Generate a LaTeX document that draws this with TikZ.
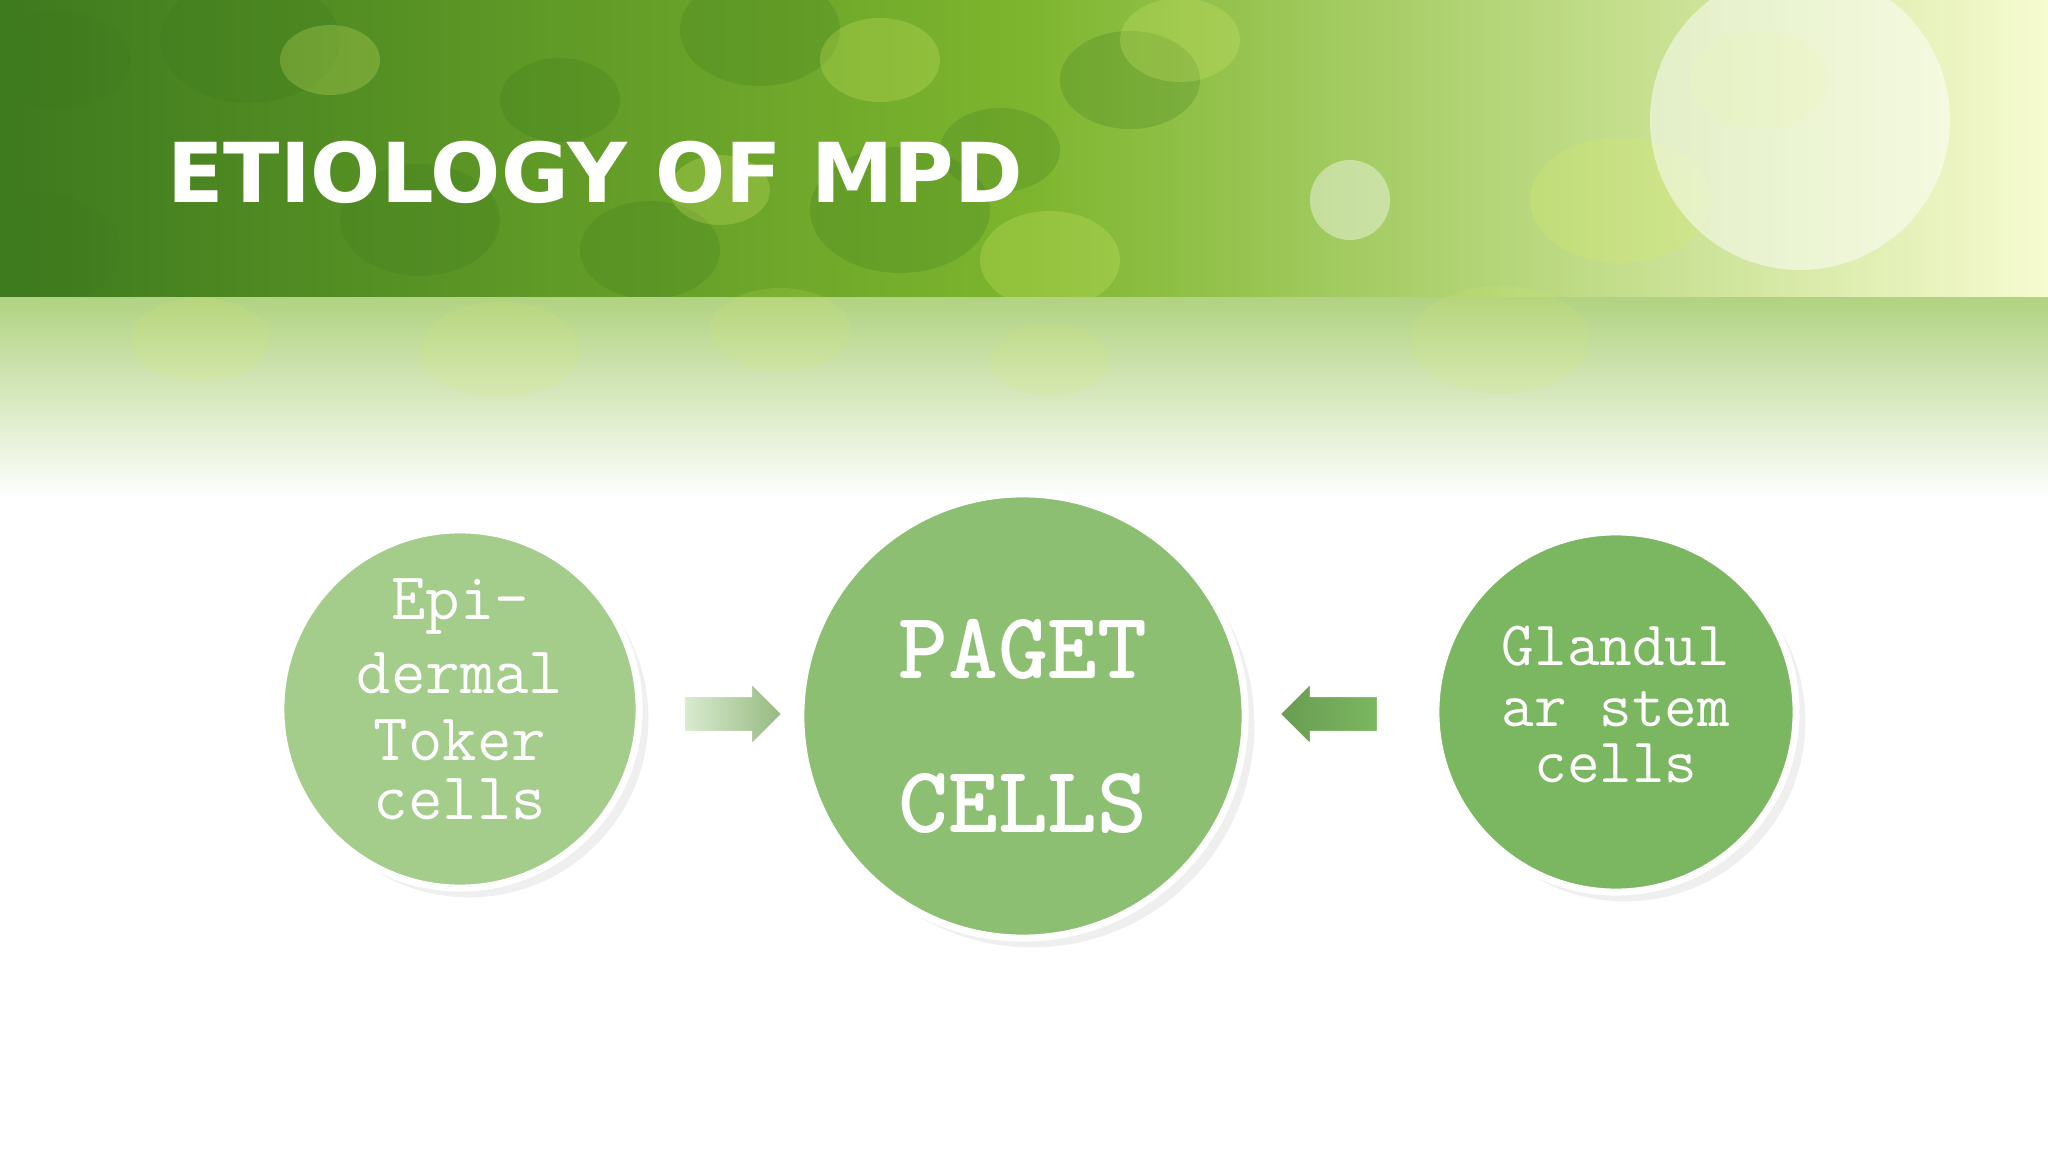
\documentclass[tikz,border=0pt]{standalone}
\usepackage{fontspec}
\setmainfont{Liberation Mono}
\newfontfamily\titlefont{DejaVu Sans}
\usetikzlibrary{shapes.arrows,shadows}
\definecolor{leafdark}{HTML}{3E7A1E}
\definecolor{leafmid}{HTML}{7DB52E}
\definecolor{leaflight}{HTML}{D8EC6A}
\definecolor{sunny}{HTML}{F6FBD0}
\definecolor{cA}{HTML}{A4CD8C}
\definecolor{cB}{HTML}{8CBF72}
\definecolor{cC}{HTML}{7BB760}
\tikzset{
 cell/.style={circle,draw=white,line width=2pt,text=white,align=center,inner sep=0pt},
 ctext/.style={text=white,font=\ttfamily},
 leaf/.style={fill=leaflight,opacity=0.25},
 leafd/.style={fill=leafdark,opacity=0.25},
 arr/.style={single arrow,draw=white,line width=1pt,minimum height=1cm,minimum width=0.66cm,single arrow head extend=0.12cm,inner sep=0.14cm}
}
\begin{document}
\begin{tikzpicture}[x=0.01cm,y=-0.01cm]
\useasboundingbox (0,0) rectangle (2048,1152);
\fill[white] (0,0) rectangle (2048,1152);
% leafy band
\shade[left color=leafdark,right color=sunny,middle color=leafmid] (0,0) rectangle (2048,300);
\foreach \x/\y/\r in {60/60/70,250/40/90,420/220/80,560/100/60,760/30/80,900/210/90,1130/80/70,40/250/80,650/250/70,1000/150/60}{
  \fill[leafd] (\x,\y) ellipse ({\r} and {0.7*\r});}
\foreach \x/\y/\r in {330/60/50,880/60/60,1050/260/70,1180/40/60,720/190/50,1620/200/90,1760/80/70}{
  \fill[leaf] (\x,\y) ellipse ({\r} and {0.7*\r});}
\fill[white,opacity=0.5] (1800,120) circle (150);
\fill[white,opacity=0.4] (1350,200) circle (40);
% fade
\shade[top color=leafmid!60!white,bottom color=white] (0,298) rectangle (2048,500);
\foreach \x/\y/\r in {200/340/70,500/350/80,780/330/70,1050/360/60,1500/340/90}{
  \fill[leaflight,opacity=0.15] (\x,\y) ellipse ({\r} and {0.6*\r});}
\shade[top color=white,bottom color=white] (0,500) rectangle (2048,520);
% title
\node[anchor=west,text=white,font=\titlefont\bfseries\fontsize{23.5}{28}\selectfont] (title) at (155,172) {ETIOLOGY OF MPD};
% circles
\node[cell,minimum size=3.58cm,fill=cA,drop shadow={opacity=0.12}] (epi) at (460,709) {};
\node[cell,minimum size=4.44cm,fill=cB,drop shadow={opacity=0.12}] (paget) at (1023,716) {};
\node[cell,minimum size=3.6cm,fill=cC,drop shadow={opacity=0.12}] (gland) at (1616,712) {};
\foreach \t/\y in {Epi-/607,dermal/673,Toker/740,cells/799}
  \node[ctext,font=\ttfamily\fontsize{19}{22}\selectfont] at (460,\y) {\t};
\node[ctext,font=\ttfamily\bfseries\fontsize{27}{30}\selectfont] at (1023,649) {PAGET};
\node[ctext,font=\ttfamily\bfseries\fontsize{27}{30}\selectfont] at (1023,803) {CELLS};
\foreach \t/\y in {Glandul/646,ar stem/709,cells/763}
  \node[ctext,font=\ttfamily\fontsize{18}{22}\selectfont] at (1616,\y) {\t};
% arrows
\node[arr,left color=cA!40!white,right color=cA!90!black] (a1) at (724,714) {};
\node[arr,shape border rotate=180,left color=cC!85!black,right color=cC] (a2) at (1338,714) {};
\end{tikzpicture}
\end{document}
